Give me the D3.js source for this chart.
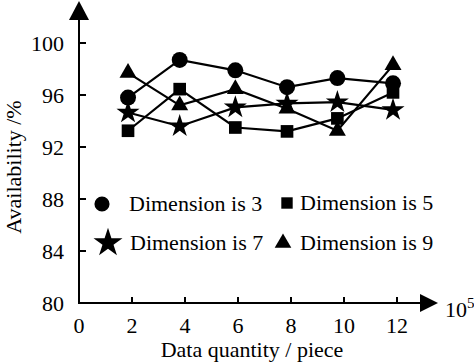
<!DOCTYPE html>
<html><head><meta charset="utf-8">
<script src="https://cdn.jsdelivr.net/npm/d3@7"></script>
<style>body{margin:0;background:#fff}svg{display:block}text{font-family:"Liberation Serif","Times New Roman",serif;fill:#000}</style>
</head><body>
<svg id="c" width="474" height="364"></svg>
<script>
const xValues = [1.85, 3.8, 5.9, 7.85, 9.75, 11.85];
const dim3 = [95.8, 98.7, 97.9, 96.6, 97.3, 96.9];
const dim5 = [93.25, 96.45, 93.5, 93.2, 94.2, 96.2];
const dim7 = [94.65, 93.6, 95.05, 95.35, 95.45, 94.85];
const dim9 = [97.7, 95.2, 96.45, 94.95, 93.25, 98.3];
const seriesNames = ["Dimension is 3", "Dimension is 5", "Dimension is 7", "Dimension is 9"];
const xTicks = [0, 2, 4, 6, 8, 10, 12];
const yTicks = [80, 84, 88, 92, 96, 100];

const svg = d3.select("#c");
const x = d3.scaleLinear().domain([0, 12]).range([79, 397]);
const y = d3.scaleLinear().domain([80, 100]).range([303, 43]);

const series = [
  {name: seriesNames[0], vals: dim3, sym: d3.symbolCircle, size: 200, lsize: 180},
  {name: seriesNames[1], vals: dim5, sym: d3.symbolSquare, size: 160, lsize: 130},
  {name: seriesNames[2], vals: dim7, sym: d3.symbolStar, size: 165, lsize: 260},
  {name: seriesNames[3], vals: dim9, sym: d3.symbolTriangle, size: 125, lsize: 120}
];
const FS = 22;

// axes lines
const ax = svg.append("g");
ax.append("line").attr("x1", x(0)).attr("x2", 425).attr("y1", y(80)).attr("y2", y(80)).attr("stroke", "#000").attr("stroke-width", 2);
ax.append("path").attr("d", `M438,${y(80)} L420,${y(80)-9} L420,${y(80)+9} Z`).attr("fill", "#000");
ax.append("line").attr("x1", x(0)).attr("x2", x(0)).attr("y1", y(80)+1).attr("y2", 15).attr("stroke", "#000").attr("stroke-width", 2);
ax.append("path").attr("d", `M${x(0)},1 L${x(0)-10},20 L${x(0)+10},20 Z`).attr("fill", "#000");

// y ticks
yTicks.forEach(t => {
  if (t !== 80) ax.append("line").attr("x1", x(0)).attr("x2", x(0)+7).attr("y1", y(t)).attr("y2", y(t)).attr("stroke", "#000").attr("stroke-width", 2);
  ax.append("text").attr("x", 64).attr("y", y(t)).attr("dy", "0.36em").attr("text-anchor", "end").attr("font-size", FS).text(t);
});
// x ticks
xTicks.forEach(t => {
  if (t !== 0) ax.append("line").attr("x1", x(t)).attr("x2", x(t)).attr("y1", y(80)).attr("y2", y(80)-6).attr("stroke", "#000").attr("stroke-width", 2);
  ax.append("text").attr("x", x(t)).attr("y", 333).attr("text-anchor", "middle").attr("font-size", FS).text(t);
});
// 10^5
const pw = ax.append("text").attr("x", 445).attr("y", 317).attr("font-size", FS);
pw.append("tspan").text("10");
pw.append("tspan").attr("dy", -9).attr("font-size", 15).text("5");

// axis titles
ax.append("text").attr("x", 252).attr("y", 357).attr("text-anchor", "middle").attr("font-size", FS).text("Data quantity / piece");
ax.append("text").attr("transform", "translate(21,167) rotate(-90)").attr("text-anchor", "middle").attr("font-size", FS).text("Availability /%");

// lines
const line = d3.line().x((d, i) => x(xValues[i])).y(d => y(d));
series.forEach(s => {
  svg.append("path").attr("d", line(s.vals)).attr("fill", "none").attr("stroke", "#000").attr("stroke-width", 2.2);
});
series.forEach(s => {
  svg.append("g").selectAll("path").data(s.vals).join("path")
    .attr("transform", (d, i) => `translate(${x(xValues[i])},${y(d)})`)
    .attr("d", d3.symbol().type(s.sym).size(s.size)).attr("fill", "#000");
});

// legend
const legPos = [[102, 204, 129], [287, 203, 300], [108, 243, 130], [283, 243, 300]];
series.forEach((s, i) => {
  const [mx, my, tx] = legPos[i];
  svg.append("path").attr("transform", `translate(${mx},${my})`).attr("d", d3.symbol().type(s.sym).size(s.lsize)).attr("fill", "#000");
  svg.append("text").attr("x", tx).attr("y", my + 7).attr("font-size", FS).text(s.name);
});
</script>
</body></html>
